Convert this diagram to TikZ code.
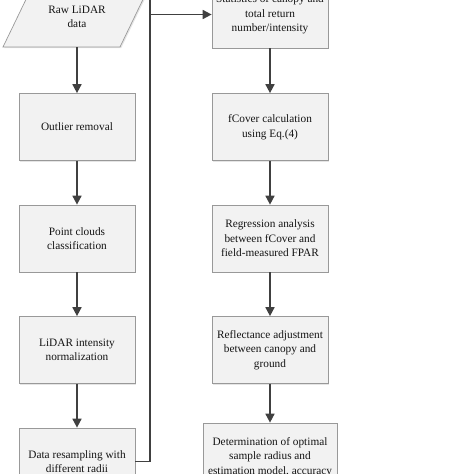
\documentclass[tikz,border=0pt]{standalone}
\usepackage{fontspec}
\setmainfont{Liberation Serif}
\usetikzlibrary{arrows.meta,shadows}
\begin{document}
\begin{tikzpicture}[x=1pt,y=-1pt,
  stepbox/.style={draw=black!40, line width=0.7pt, fill=black!5, align=center,
    minimum width=116pt, minimum height=67pt, inner sep=2pt, text=black!92,
    font=\fontsize{11.3}{14.5}\selectfont,
    drop shadow={shadow xshift=1.2pt, shadow yshift=-1.2pt, opacity=0.25, fill=black!40}},
  flow/.style={draw=black!75, line width=1.7pt, -{Triangle[length=9pt,width=9pt]}}]
\useasboundingbox (0,0) rectangle (474,474);
\clip (0,0) rectangle (474,474);
% parallelogram
\draw[draw=black!40, line width=0.7pt, fill=black!5,
  drop shadow={shadow xshift=1.2pt, shadow yshift=-1.2pt, opacity=0.25, fill=black!40}]
  (3,47) -- (120,47) -- (149,-13) -- (32,-13) -- cycle;
\node[align=center, text=black!92, font=\fontsize{11.3}{14.5}\selectfont] (raw) at (77,17) {Raw LiDAR\\data};
\coordinate (rawb) at (77,47);
\node[stepbox] (outlier) at (77,127) {Outlier removal};
\node[stepbox] (point) at (77,238.5) {Point clouds\\classification};
\node[stepbox] (lidint) at (77,350) {LiDAR intensity\\normalization};
\node[stepbox] (resample) at (77,461.5) {Data resampling with\\different radii};
\node[stepbox] (stats) at (270,14.5) {Statistics of canopy and\\total return\\number/intensity};
\node[stepbox] (fcover) at (270,127) {fCover calculation\\using Eq.(4)};
\node[stepbox] (regr) at (270,238.5) {Regression analysis\\between fCover and\\field-measured FPAR};
\node[stepbox] (refl) at (270,350) {Reflectance adjustment\\between canopy and\\ground};
\node[stepbox, minimum width=134pt, minimum height=68pt] (determ) at (270,457) {Determination of optimal\\sample radius and\\estimation model, accuracy};
\coordinate (bend) at (150,0);
\draw[flow] (rawb) -- (outlier);
\draw[flow] (outlier) -- (point);
\draw[flow] (point) -- (lidint);
\draw[flow] (lidint) -- (resample);
\draw[flow] (resample.east) -| (bend) |- (stats.west);
\draw[flow] (stats) -- (fcover);
\draw[flow] (fcover) -- (regr);
\draw[flow] (regr) -- (refl);
\draw[flow] (refl) -- (determ);
\end{tikzpicture}
\end{document}
